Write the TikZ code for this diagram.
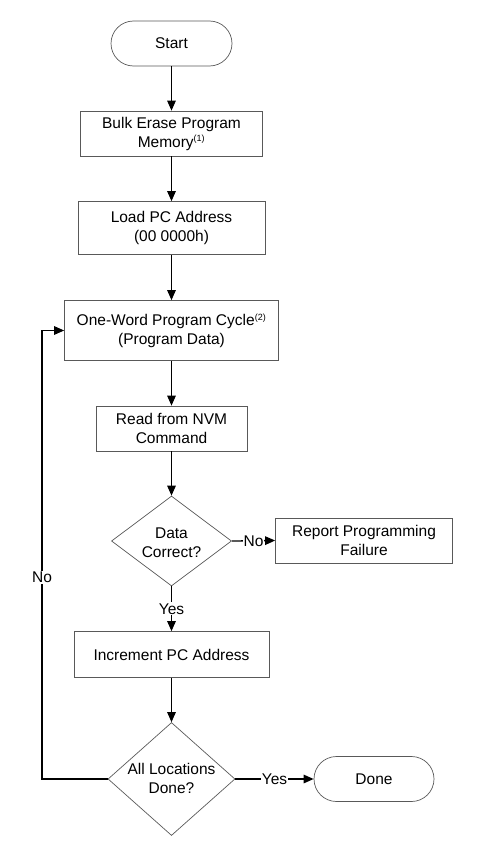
\documentclass[tikz,border=0pt]{standalone}
\usepackage{fontspec}
\setmainfont{Liberation Sans}
\usetikzlibrary{shapes.geometric,arrows.meta}
\begin{document}
\begin{tikzpicture}[x=1pt,y=-1pt,
  every node/.style={font=\fontsize{15.5pt}{19pt}\selectfont, align=center},
  procbox/.style={draw=black!65, line width=0.7pt, rectangle, inner sep=0pt},
  termbox/.style={draw=black!65, line width=0.7pt, rectangle, rounded corners=22.5pt, minimum height=45pt, inner sep=0pt},
  decbox/.style={draw=black!65, line width=0.7pt, diamond, inner sep=0pt},
  flow/.style={line width=1.3pt, -{Triangle[length=10pt,width=8.5pt]}},
  lbl/.style={fill=white, inner sep=1pt}
]
\useasboundingbox (0,0) rectangle (490,862);

\node[termbox, minimum width=121pt] (start) at (171.5,43.5) {Start};
\node[procbox, minimum width=182pt, minimum height=45pt] (bulk) at (171.5,133.5)
  {Bulk Erase Program\\Memory\textsuperscript{\fontsize{9pt}{10pt}\selectfont(1)}};
\node[procbox, minimum width=187pt, minimum height=53pt] (load) at (171.5,228)
  {Load PC Address\\(00 0000h)};
\node[procbox, minimum width=214pt, minimum height=60pt] (one) at (171.5,330.5)
  {One-Word Program Cycle\textsuperscript{\fontsize{9pt}{10pt}\selectfont(2)}\\(Program Data)};
\node[procbox, minimum width=151pt, minimum height=45pt] (read) at (171.5,428.5)
  {Read from NVM\\Command};
\node[decbox, minimum width=120pt, minimum height=90pt] (dc) at (171.5,541) {};
\node (dctext) at (171.5,543) {Data\\Correct?};
\node[procbox, minimum width=177pt, minimum height=45pt] (report) at (364,540.5)
  {Report Programming\\Failure};
\node[procbox, minimum width=195pt, minimum height=46pt] (inc) at (171.5,654.5)
  {Increment PC Address};
\node[decbox, minimum width=127pt, minimum height=113pt] (ald) at (171.5,779) {};
\node (aldtext) at (171.5,778) {All Locations\\Done?};
\node[termbox, minimum width=120pt] (done) at (374,779) {Done};

\coordinate (loopb) at (42,779);
\coordinate (loopt) at (42,330.5);

\draw[flow] (start) -- (bulk);
\draw[flow] (bulk) -- (load);
\draw[flow] (load) -- (one);
\draw[flow] (one) -- (read);
\draw[flow] (read) -- (dc.north);
\draw[flow] (dc.east) -- node[lbl] (nolbl) {No} (report.west);
\draw[flow] (dc.south) -- node[lbl] (yeslbl) {Yes} (inc.north);
\draw[flow] (inc) -- (ald.north);
\draw[flow] (ald.east) -- node[lbl] (yes2lbl) {Yes} (done.west);
\draw[flow] (ald.west) -- (loopb) -- node[lbl, pos=0.45] (no2lbl) {No} (loopt) -- (one.west);
\end{tikzpicture}
\end{document}
